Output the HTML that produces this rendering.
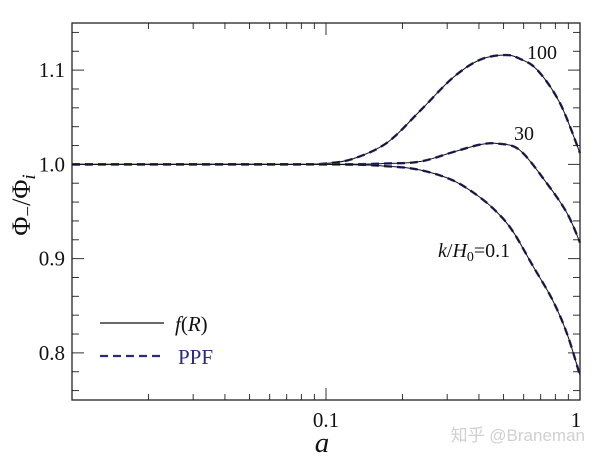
<!DOCTYPE html>
<html><head><meta charset="utf-8">
<style>
html,body{margin:0;padding:0;background:#fff;}
svg{display:block;font-family:"Liberation Serif",serif;}
</style></head>
<body>
<svg id="chart" width="600" height="461" viewBox="0 0 600 461">
<g id="ticks"></g>
<g id="curves"></g>
<rect x="72" y="23" width="508" height="377" fill="none" stroke="#222" stroke-width="1.3"/>
<g id="ylabels" font-size="21" fill="#111" text-anchor="end"></g>
<g id="xlabels" font-size="21" fill="#111" text-anchor="middle"></g>
<text x="322" y="452" font-size="29" font-style="italic" text-anchor="middle" fill="#111">a</text>
<text transform="translate(30,205) rotate(-90)" font-size="26" text-anchor="middle" fill="#111">Φ<tspan font-size="19" dy="4">−</tspan><tspan dy="-4">/Φ</tspan><tspan font-size="19" font-style="italic" dy="5">i</tspan></text>
<text x="527" y="59" font-size="20" fill="#111">100</text>
<text x="514" y="140" font-size="20" fill="#111">30</text>
<text x="438" y="257" font-size="20" fill="#111"><tspan font-style="italic">k</tspan>/<tspan font-style="italic">H</tspan><tspan font-size="14" dy="4">0</tspan><tspan dy="-4">=0.1</tspan></text>
<g>
<line x1="100" y1="323" x2="164" y2="323" stroke="#111" stroke-width="1.2"/>
<text x="175" y="331" font-size="21" fill="#111"><tspan font-style="italic">f</tspan>(<tspan font-style="italic">R</tspan>)</text>
<line x1="100" y1="356" x2="164" y2="356" stroke="#2a2a80" stroke-width="2.2" stroke-dasharray="8,5"/>
<text x="178" y="364" font-size="21" fill="#2a2a80">PPF</text>
</g>
<text x="585" y="441" font-size="17" fill="#d0d0d0" text-anchor="end" font-family="'Liberation Sans','Noto Sans CJK SC',sans-serif">知乎 @Braneman</text>
</svg>
<script>
const yTicks=[0.8,0.9,1.0,1.1];
const yTickLabels=["0.8","0.9","1.0","1.1"];
const xTicks=[0.1,1];
const xTickLabels=["0.1","1"];
const aVals100=[0.01,0.05,0.08,0.1,0.128,0.174,0.235,0.316,0.404,0.507,0.58,0.68,0.834,1.0];
const phi100=[1.0,1.0,1.0,1.001,1.006,1.023,1.057,1.092,1.111,1.116,1.112,1.1,1.065,1.012];
const aVals30=[0.01,0.1,0.174,0.235,0.316,0.404,0.476,0.58,0.74,0.89,1.0];
const phi30=[1.0,1.0,1.001,1.003,1.013,1.021,1.022,1.015,0.98,0.948,0.917];
const aVals01=[0.01,0.1,0.174,0.235,0.316,0.404,0.484,0.55,0.65,0.78,0.89,1.0];
const phi01=[1.0,1.0,0.998,0.994,0.983,0.965,0.946,0.927,0.893,0.856,0.82,0.776];
const X0=72,X1=580,Y0=400,Y1=23,YMIN=0.75,YMAX=1.15;
const xs=a=>X0+(Math.log10(a)+2)/2*(X1-X0);
const ys=v=>Y0-(v-YMIN)/(YMAX-YMIN)*(Y0-Y1);
const NS="http://www.w3.org/2000/svg";
const tg=document.getElementById('ticks');
function ln(x1,y1,x2,y2){const l=document.createElementNS(NS,'line');l.setAttribute('x1',x1);l.setAttribute('y1',y1);l.setAttribute('x2',x2);l.setAttribute('y2',y2);l.setAttribute('stroke','#333');l.setAttribute('stroke-width','1');


tg.appendChild(l);}
for(let i=0;i<=20;i++){const v=0.76+i*0.02;if(v>1.15)break;const y=ys(v);const maj=Math.abs((v*10)-Math.round(v*10))<1e-6;const L=maj?12:7;ln(X0,y,X0+L,y);ln(X1,y,X1-L,y);}
for(let d=0;d<2;d++){for(let m=1;m<=9;m++){const a=Math.pow(10,d-2)*m;const x=xs(a);const maj=m===1;const L=maj?12:6;if(a<=0.01)continue;ln(x,Y0,x,Y0-L);ln(x,Y1,x,Y1+L);}}
const yl=document.getElementById('ylabels');
yTicks.forEach((v,i)=>{const t=document.createElementNS(NS,'text');t.setAttribute('x',65);t.setAttribute('y',ys(v)+7);t.textContent=yTickLabels[i];


yl.appendChild(t);});
const xl=document.getElementById('xlabels');
xTicks.forEach((v,i)=>{const t=document.createElementNS(NS,'text');t.setAttribute('x',xs(v)+(v===1?-4:0));t.setAttribute('y',427);t.textContent=xTickLabels[i];


xl.appendChild(t);});
function smooth(ax,vy){const p=ax.map((a,i)=>[xs(a),ys(vy[i])]);let d='M'+p[0][0]+','+p[0][1];
for(let i=0;i<p.length-1;i++){const p0=p[Math.max(0,i-1)],p1=p[i],p2=p[i+1],p3=p[Math.min(p.length-1,i+2)];
const c1=[p1[0]+(p2[0]-p0[0])/6,p1[1]+(p2[1]-p0[1])/6],c2=[p2[0]-(p3[0]-p1[0])/6,p2[1]-(p3[1]-p1[1])/6];
d+=`C${c1[0]},${c1[1]} ${c2[0]},${c2[1]} ${p2[0]},${p2[1]}`;}return d;}
const cg=document.getElementById('curves');
[[aVals100,phi100,'100'],[aVals30,phi30,'30'],[aVals01,phi01,'0.1']].forEach(([ax,vy,n])=>{
const d=smooth(ax,vy);
const p1=document.createElementNS(NS,'path');p1.setAttribute('d',d);p1.setAttribute('fill','none');p1.setAttribute('stroke','#2a2a80');p1.setAttribute('stroke-width','2.4');p1.setAttribute('stroke-dasharray','8,5');


cg.appendChild(p1);
const p2=document.createElementNS(NS,'path');p2.setAttribute('d',d);p2.setAttribute('fill','none');p2.setAttribute('stroke','#111');p2.setAttribute('stroke-width','1');


cg.appendChild(p2);});
</script>
</body></html>
